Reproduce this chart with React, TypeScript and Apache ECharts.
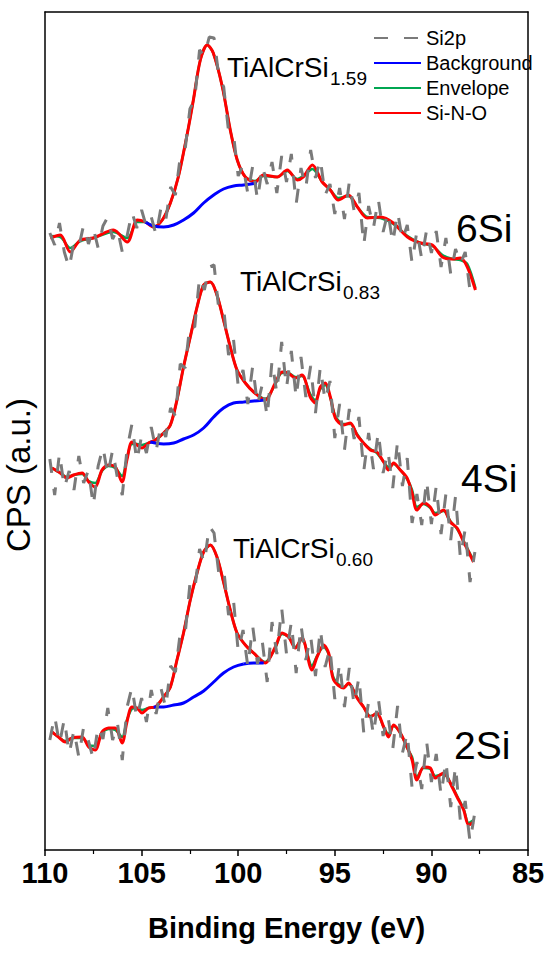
import React, { useEffect, useRef } from "react";
import * as echarts from "echarts";

// Binding energy grid of the raw Si2p spectra (eV)
const RAW_E = [
  109.75, 109.5, 109.25, 109, 108.75, 108.5, 108.25, 108, 107.75, 107.5,
  107.25, 107, 106.75, 106.5, 106.25, 106, 105.75, 105.5, 105.25, 105,
  104.75, 104.5, 104.25, 104, 103.75, 103.5, 103.25, 103, 102.75, 102.5,
  102.25, 102, 101.75, 101.5, 101.25, 101, 100.75, 100.5, 100.25, 100,
  99.75, 99.5, 99.25, 99, 98.75, 98.5, 98.25, 98, 97.75, 97.5,
  97.25, 97, 96.75, 96.5, 96.25, 96, 95.75, 95.5, 95.25, 95,
  94.75, 94.5, 94.25, 94, 93.75, 93.5, 93.25, 93, 92.75, 92.5,
  92.25, 92, 91.75, 91.5, 91.25, 91, 90.75, 90.5, 90.25, 90,
  89.75, 89.5, 89.25, 89, 88.75, 88.5, 88.25, 88, 87.75,
];

// Raw intensities (a.u., stacked)
const RAW_6SI = [
  617, 605, 627, 598, 582, 608, 603, 625, 606, 622,
  602, 624, 633, 611, 621, 598, 614, 638, 622, 640,
  623, 633, 615, 642, 630, 663, 655, 693, 700, 741,
  751, 800, 794, 813, 812, 773, 763, 719, 717, 674,
  685, 656, 684, 650, 684, 666, 688, 657, 694, 668,
  696, 646, 682, 662, 700, 672, 691, 655, 666, 636,
  662, 631, 668, 639, 657, 605, 644, 622, 651, 618,
  638, 607, 638, 610, 625, 587, 619, 591, 620, 597,
  619, 583, 612, 576, 601, 586, 598, 559, 567,
];
const RAW_4SI = [
  391, 355, 397, 362, 379, 360, 394, 367, 380, 344,
  384, 403, 375, 400, 372, 355, 401, 426, 389, 414,
  397, 423, 399, 425, 413, 442, 434, 486, 482, 525,
  523, 573, 560, 583, 585, 540, 541, 495, 512, 464,
  480, 446, 484, 445, 466, 433, 489, 457, 508, 462,
  499, 452, 493, 453, 484, 437, 483, 449, 469, 412,
  446, 400, 441, 411, 433, 379, 417, 381, 418, 377,
  399, 362, 409, 364, 392, 327, 356, 325, 370, 326,
  364, 316, 356, 310, 354, 292, 321, 268, 298,
];
const RAW_2SI = [
  110, 134, 106, 131, 96, 120, 93, 123, 109, 91,
  124, 111, 142, 110, 127, 90, 143, 163, 132, 152,
  128, 160, 136, 162, 142, 184, 178, 217, 215, 266,
  260, 301, 287, 324, 317, 276, 281, 235, 251, 199,
  220, 183, 224, 186, 208, 168, 228, 196, 242, 196,
  228, 177, 225, 190, 214, 174, 221, 183, 202, 151,
  187, 143, 182, 145, 173, 117, 148, 115, 152, 114,
  134, 101, 144, 97, 117, 62, 88, 61, 109, 68,
  96, 55, 89, 43, 84, 29, 49, 8, 38,
];

// Si-N-O component fits [eV, a.u.]
const FIT_6SI = [
  [109.73, 612], [109.21, 615], [108.69, 598], [108.17, 610], [107.5, 612],
  [106.46, 620], [105.74, 608], [105.22, 630], [104.81, 628], [104.39, 623],
  [103.93, 630], [103.51, 647], [103.1, 673], [102.63, 717], [102.32, 750],
  [101.96, 790], [101.6, 805], [101.29, 797], [100.82, 763], [100.41, 720],
  [100.05, 690], [99.63, 673], [99.12, 668], [98.7, 675], [97.98, 673],
  [97.46, 680], [96.94, 670], [96.63, 673], [96.16, 685], [95.65, 668],
  [95.23, 660], [94.82, 650], [94.3, 655], [93.83, 643], [93.32, 632],
  [92.64, 633], [91.97, 627], [91.24, 613], [90.57, 607], [89.95, 605],
  [89.43, 593], [88.91, 591], [88.5, 592], [88.14, 583], [87.72, 560],
];
const FIT_4SI = [
  [109.64, 382], [109.21, 377], [108.86, 372], [108.52, 375], [108.08, 377],
  [107.74, 368], [107.4, 363], [107.05, 380], [106.71, 385], [106.36, 383],
  [106.01, 368], [105.76, 390], [105.5, 408], [105.24, 405], [104.98, 402],
  [104.64, 407], [104.29, 410], [103.86, 417], [103.51, 425], [103.17, 450],
  [102.83, 483], [102.48, 513], [102.13, 543], [101.79, 565], [101.44, 568],
  [101.1, 555], [100.76, 530], [100.41, 503], [100.06, 480], [99.63, 467],
  [99.2, 458], [98.6, 450], [98.08, 467], [97.73, 478], [97.41, 477],
  [97.04, 472], [96.7, 475], [96.27, 453], [96.01, 447], [95.75, 463],
  [95.49, 467], [95.23, 453], [94.97, 432], [94.56, 425], [94.2, 427],
  [93.85, 415], [93.51, 407], [93.16, 400], [92.82, 398], [92.47, 388],
  [92.22, 380], [91.96, 387], [91.61, 380], [91.26, 372], [91.0, 357],
  [90.75, 340], [90.4, 347], [90.06, 343], [89.8, 335], [89.37, 340],
  [89.02, 328], [88.67, 322], [88.33, 308], [88.07, 298], [87.82, 288],
];
const FIT_2SI = [
  [109.64, 118], [109.3, 113], [108.95, 108], [108.6, 112], [108.08, 113],
  [107.74, 103], [107.4, 100], [107.05, 118], [106.71, 122], [106.36, 122],
  [106.01, 107], [105.76, 128], [105.5, 143], [105.24, 142], [104.98, 137],
  [104.64, 142], [104.29, 143], [103.86, 153], [103.51, 163], [103.17, 190],
  [102.83, 217], [102.48, 250], [102.13, 277], [101.79, 298], [101.44, 305],
  [101.1, 293], [100.76, 268], [100.41, 240], [100.06, 217], [99.63, 205],
  [99.2, 197], [98.6, 187], [98.08, 203], [97.73, 217], [97.39, 213],
  [97.04, 202], [96.7, 212], [96.18, 180], [95.92, 193], [95.58, 205],
  [95.32, 197], [95.06, 170], [94.54, 162], [94.29, 167], [93.85, 152],
  [93.51, 143], [93.16, 133], [92.82, 137], [92.47, 123], [92.22, 113],
  [91.96, 125], [91.61, 117], [91.26, 103], [91.0, 90], [90.75, 70],
  [90.4, 83], [90.06, 82], [89.8, 72], [89.37, 77], [88.93, 63],
  [88.67, 53], [88.33, 40], [88.07, 25], [87.82, 28],
];

// Envelopes [eV, a.u.]
const ENV_6SI = [
  [109.73, 614], [109.21, 613], [108.69, 602], [108.17, 609], [107.5, 612],
  [106.46, 618], [105.74, 612], [105.22, 628], [104.81, 628], [104.39, 623],
  [103.93, 630], [103.51, 647], [103.1, 673], [102.63, 717], [102.32, 750],
  [101.96, 790], [101.6, 805], [101.29, 797], [100.82, 763], [100.41, 720],
  [100.05, 690], [99.63, 673], [99.12, 669], [98.7, 674], [97.98, 673],
  [97.46, 679], [96.94, 671], [96.63, 674], [96.16, 681], [95.65, 668],
  [95.23, 660], [94.82, 652], [94.3, 654], [93.83, 643], [93.32, 633],
  [92.64, 632], [91.97, 626], [91.24, 614], [90.57, 607], [89.95, 604],
  [89.43, 595], [88.91, 591], [88.5, 590], [88.14, 586], [87.72, 562],
];
const ENV_4SI = [
  [109.64, 382], [109.21, 377], [108.86, 373], [108.52, 375], [108.08, 376],
  [107.74, 369], [107.4, 367], [107.05, 379], [106.71, 384], [106.36, 382],
  [106.01, 374], [105.76, 392], [105.5, 406], [105.24, 406], [104.98, 405],
  [104.64, 407], [104.29, 410], [103.86, 417], [103.51, 425], [103.17, 450],
  [102.83, 483], [102.48, 513], [102.13, 543], [101.79, 565], [101.44, 568],
  [101.1, 555], [100.76, 530], [100.41, 503], [100.06, 480], [99.63, 467],
  [99.2, 458], [98.6, 451], [98.08, 466], [97.73, 477], [97.41, 477],
  [97.04, 473], [96.7, 474], [96.27, 456], [96.01, 450], [95.75, 461],
  [95.49, 465], [95.23, 452], [94.97, 434], [94.56, 426], [94.2, 426],
  [93.85, 416], [93.51, 407], [93.16, 401], [92.82, 397], [92.47, 388],
  [92.22, 383], [91.96, 386], [91.61, 380], [91.26, 371], [91.0, 360],
  [90.75, 343], [90.4, 346], [90.06, 342], [89.8, 337], [89.37, 339],
  [89.02, 329], [88.67, 321], [88.33, 309], [88.07, 299], [87.82, 290],
];
const ENV_2SI = [
  [109.64, 118], [109.3, 113], [108.95, 109], [108.6, 112], [108.08, 112],
  [107.74, 105], [107.4, 104], [107.05, 117], [106.71, 121], [106.36, 120],
  [106.01, 113], [105.76, 130], [105.5, 141], [105.24, 142], [104.98, 140],
  [104.64, 142], [104.29, 143], [103.86, 153], [103.51, 163], [103.17, 190],
  [102.83, 217], [102.48, 250], [102.13, 277], [101.79, 298], [101.44, 305],
  [101.1, 293], [100.76, 268], [100.41, 240], [100.06, 217], [99.63, 205],
  [99.2, 197], [98.6, 188], [98.08, 202], [97.73, 216], [97.39, 213],
  [97.04, 203], [96.7, 211], [96.18, 184], [95.92, 194], [95.58, 203],
  [95.32, 196], [95.06, 172], [94.54, 163], [94.29, 166], [93.85, 153],
  [93.51, 143], [93.16, 134], [92.82, 136], [92.47, 123], [92.22, 116],
  [91.96, 124], [91.61, 117], [91.26, 102], [91.0, 93], [90.75, 73],
  [90.4, 82], [90.06, 81], [89.8, 74], [89.37, 76], [88.93, 64],
  [88.67, 54], [88.33, 41], [88.07, 27], [87.82, 30],
];

// Shirley backgrounds [eV, a.u.]
const BG_6SI = [
  [104.81, 628], [104.38, 624], [103.86, 623], [103.34, 625], [102.83, 630],
  [102.31, 637], [101.79, 647], [101.27, 655], [100.76, 661], [100.24, 664],
  [99.72, 665], [99.03, 667],
];
const BG_4SI = [
  [104.55, 408], [103.86, 406], [103.34, 407], [102.83, 411], [102.31, 415],
  [101.79, 422], [101.27, 433], [100.76, 442], [100.24, 447], [99.72, 448],
  [99.2, 449], [98.6, 450],
];
const BG_2SI = [
  [104.38, 143], [103.86, 143], [103.34, 145], [102.83, 147], [102.31, 153],
  [101.79, 159], [101.27, 168], [100.76, 177], [100.24, 183], [99.72, 186],
  [99.2, 187], [98.68, 187],
];

const LEGEND_NAMES = ["Si2p", "Background", "Envelope", "Si-N-O"];
const SAMPLE_NAMES = ["6Si", "4Si", "2Si"];
const SI_CONTENT = ["1.59", "0.83", "0.60"];
const X_MIN = 85;
const X_MAX = 110;
const X_STEP = 5;

const FONT = '"Liberation Sans", Arial, sans-serif';

export default function App() {
  const ref = useRef<HTMLDivElement>(null);

  useEffect(() => {
    if (!ref.current) return;
    const chart = echarts.init(ref.current, null, { renderer: "svg" });

    const raws = [RAW_6SI, RAW_4SI, RAW_2SI];
    const fits = [FIT_6SI, FIT_4SI, FIT_2SI];
    const envs = [ENV_6SI, ENV_4SI, ENV_2SI];
    const bgs = [BG_6SI, BG_4SI, BG_2SI];

    const series: any[] = [];
    for (let k = 0; k < 3; k++) {
      series.push({
        type: "line",
        name: LEGEND_NAMES[2],
        data: envs[k],
        symbol: "none",
        showSymbol: false,
        smooth: 0.3,
        color: "#00a651",
        lineStyle: { color: "#00a651", width: 2.5 },
        z: 3,
      });
      series.push({
        type: "line",
        name: LEGEND_NAMES[3],
        data: fits[k],
        symbol: "none",
        showSymbol: false,
        smooth: 0.3,
        color: "#ff0000",
        lineStyle: { color: "#ff0000", width: 3 },
        z: 4,
      });
      series.push({
        type: "line",
        name: LEGEND_NAMES[1],
        data: bgs[k],
        symbol: "none",
        showSymbol: false,
        smooth: 0.4,
        color: "#0000ff",
        lineStyle: { color: "#0000ff", width: 3 },
        z: 5,
      });
      series.push({
        type: "line",
        name: LEGEND_NAMES[0],
        data: RAW_E.map((e, i) => [e, raws[k][i]]),
        symbol: "none",
        showSymbol: false,
        color: "#7a7a7a",
        lineStyle: { color: "#7a7a7a", width: 3, type: [14, 16] },
        z: 6,
      });
    }

    const label = (
      text: string,
      x: number,
      y: number,
      size: number
    ) => ({
      type: "text",
      x,
      y,
      z: 20,
      style: {
        text,
        fontSize: size,
        fontFamily: FONT,
        fill: "#000",
        align: "left",
        verticalAlign: "middle",
      },
    });

    const graphic = [
      label("TiAlCrSi", 227, 67, 28),
      label(SI_CONTENT[0], 330, 78, 19),
      label("TiAlCrSi", 240, 281, 28),
      label(SI_CONTENT[1], 343, 292, 19),
      label("TiAlCrSi", 233, 548, 28),
      label(SI_CONTENT[2], 336, 559, 19),
      label(SAMPLE_NAMES[0], 456, 228, 39),
      label(SAMPLE_NAMES[1], 461, 478, 39),
      label(SAMPLE_NAMES[2], 454, 745, 39),
    ];

    const axisLineStyle = { color: "#000", width: 1.5 };

    chart.setOption({
      animation: false,
      backgroundColor: "#ffffff",
      textStyle: { fontFamily: FONT },
      grid: {
        left: 45,
        right: 22,
        top: 12,
        bottom: 104,
        containLabel: false,
        outerBoundsMode: "none",
      },
      legend: {
        data: LEGEND_NAMES,
        orient: "vertical",
        left: 368,
        top: 23,
        itemWidth: 47,
        itemHeight: 14,
        itemGap: 5,
        itemStyle: {
          color: "rgba(0,0,0,0)",
          borderColor: "rgba(0,0,0,0)",
          borderWidth: 0,
        },
        textStyle: { fontSize: 20, color: "#000", fontFamily: FONT },
        selectedMode: false,
      },
      xAxis: [
        {
          type: "value",
          min: X_MIN,
          max: X_MAX,
          interval: X_STEP,
          inverse: true,
          axisLine: { onZero: false, lineStyle: axisLineStyle },
          axisTick: { show: true, length: 6, lineStyle: axisLineStyle },
          minorTick: {
            show: true,
            splitNumber: 2,
            length: 4,
            lineStyle: { color: "#000", width: 1.2 },
          },
          splitLine: { show: false },
          minorSplitLine: { show: false },
          axisLabel: {
            fontSize: 29,
            fontWeight: "bold",
            color: "#000",
            margin: 8,
            fontFamily: FONT,
          },
          name: "Binding Energy (eV)",
          nameLocation: "middle",
          nameGap: 63,
          nameTextStyle: {
            fontSize: 29,
            fontWeight: "bold",
            color: "#000",
            fontFamily: FONT,
          },
        },
        {
          type: "value",
          position: "top",
          min: X_MIN,
          max: X_MAX,
          interval: X_STEP,
          inverse: true,
          axisLine: { onZero: false, lineStyle: axisLineStyle },
          axisTick: { show: false },
          axisLabel: { show: false },
          splitLine: { show: false },
        },
      ],
      yAxis: [
        {
          type: "value",
          min: 0,
          max: 838,
          axisLine: { show: true, onZero: false, lineStyle: axisLineStyle },
          axisTick: { show: false },
          axisLabel: { show: false },
          splitLine: { show: false },
          name: "CPS (a.u.)",
          nameLocation: "middle",
          nameGap: 10,
          nameTextStyle: {
            fontSize: 33,
            color: "#000",
            fontFamily: FONT,
            padding: [0, 88, 0, 0],
          },
        },
        {
          type: "value",
          position: "right",
          min: 0,
          max: 838,
          axisLine: { show: true, onZero: false, lineStyle: axisLineStyle },
          axisTick: { show: false },
          axisLabel: { show: false },
          splitLine: { show: false },
        },
      ],
      series,
      graphic,
    });

    return () => {
      chart.dispose();
    };
  }, []);

  return (
    <div
      ref={ref}
      style={{
        position: "fixed",
        left: 0,
        top: 0,
        width: 550,
        height: 954,
        background: "#fff",
      }}
    />
  );
}
